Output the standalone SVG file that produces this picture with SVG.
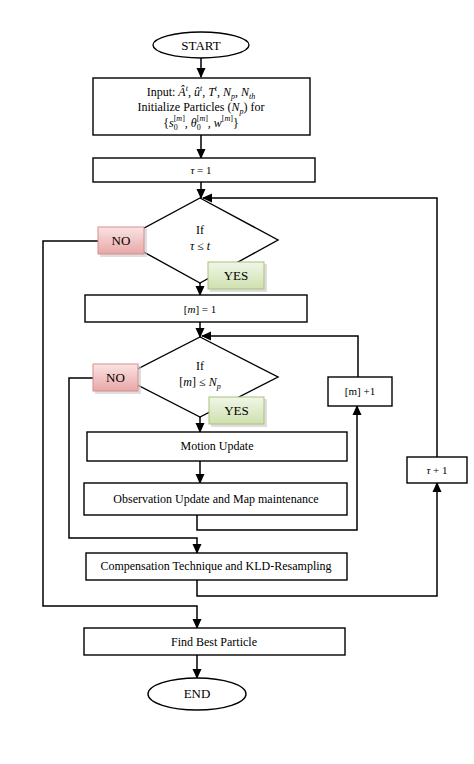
<svg xmlns="http://www.w3.org/2000/svg" width="474" height="764" viewBox="0 0 474 764">
<style>
.b{fill:#fff;stroke:#000;stroke-width:1.4}
.t{font-family:"Liberation Serif","Times New Roman",serif;font-size:12px;fill:#000;text-anchor:middle}
.m{font-style:italic}
.c{fill:none;stroke:#000;stroke-width:1.5}
.no{fill:url(#gno);stroke:#d58f8e;stroke-width:1}
.yes{fill:url(#gyes);stroke:#a8c278;stroke-width:1}
.sh{fill:#c8c8c8;opacity:0.6}
</style>
<defs>
<marker id="ah" markerWidth="10" markerHeight="10" refX="9" refY="5" orient="auto" markerUnits="userSpaceOnUse">
<path d="M0,0.5 L10,5 L0,9.5 Z" fill="#000"/>
</marker>
<linearGradient id="gno" x1="0" y1="0" x2="0" y2="1">
<stop offset="0" stop-color="#fbe3e3"/><stop offset="1" stop-color="#e8a7a6"/>
</linearGradient>
<linearGradient id="gyes" x1="0" y1="0" x2="0" y2="1">
<stop offset="0" stop-color="#f1f6e8"/><stop offset="1" stop-color="#cfe0ae"/>
</linearGradient>
</defs>
<rect width="474" height="764" fill="#fff"/>

<g id="connectors">
<line class="c" x1="201" y1="58" x2="201" y2="77" marker-end="url(#ah)"/>
<line class="c" x1="201" y1="135" x2="201" y2="158" marker-end="url(#ah)"/>
<line class="c" x1="201" y1="182" x2="201" y2="198" marker-end="url(#ah)"/>
<polyline class="c" points="437,457 437,198 203,198" marker-end="url(#ah)"/>
<line class="c" x1="200" y1="283" x2="200" y2="295" marker-end="url(#ah)"/>
<polyline class="c" points="98,241 43,241 43,606 197,606 197,628" marker-end="url(#ah)"/>
<line class="c" x1="200" y1="322" x2="200" y2="337" marker-end="url(#ah)"/>
<polyline class="c" points="358,377 358,336 202,336" marker-end="url(#ah)"/>
<line class="c" x1="200" y1="417" x2="200" y2="432" marker-end="url(#ah)"/>
<line class="c" x1="200" y1="461" x2="200" y2="483" marker-end="url(#ah)"/>
<polyline class="c" points="197,515 197,530 357,530 357,406" marker-end="url(#ah)"/>
<polyline class="c" points="93,378 69,378 69,538 197,538 197,553" marker-end="url(#ah)"/>
<polyline class="c" points="197,580 197,596 437,596 437,483" marker-end="url(#ah)"/>
<line class="c" x1="197" y1="655" x2="197" y2="678" marker-end="url(#ah)"/>
</g>

<g id="start">
<ellipse class="b" cx="201" cy="45" rx="48" ry="13"/>
<text class="t" x="201" y="50" style="font-size:13px">START</text>
</g>

<g id="input">
<rect class="b" x="93" y="78" width="217" height="57"/>
<text class="t" x="201" y="96">Input: <tspan class="m">Â</tspan><tspan class="m" font-size="8" dy="-5">t</tspan><tspan dy="5">, </tspan><tspan class="m">û</tspan><tspan class="m" font-size="8" dy="-5">t</tspan><tspan dy="5">, </tspan><tspan class="m">T</tspan><tspan class="m" font-size="8" dy="-5">t</tspan><tspan dy="5">, </tspan><tspan class="m">N</tspan><tspan class="m" font-size="8" dy="3">p</tspan><tspan dy="-3">, </tspan><tspan class="m">N</tspan><tspan class="m" font-size="8" dy="3">th</tspan></text>
<text class="t" x="201" y="111">Initialize Particles (<tspan class="m">N</tspan><tspan class="m" font-size="8" dy="3">p</tspan><tspan dy="-3">) for</tspan></text>
<text class="t" x="201" y="127">{<tspan class="m">s</tspan><tspan font-size="8" dy="3">0</tspan><tspan font-size="8" dx="-4" dy="-9">[<tspan class="m">m</tspan>]</tspan><tspan dy="6">, </tspan><tspan class="m">θ</tspan><tspan font-size="8" dy="3">0</tspan><tspan font-size="8" dx="-4" dy="-9">[<tspan class="m">m</tspan>]</tspan><tspan dy="6">, </tspan><tspan class="m">w</tspan><tspan font-size="8" dy="-6">[<tspan class="m">m</tspan>]</tspan><tspan dy="6">}</tspan></text>
</g>

<g id="tau1">
<rect class="b" x="93" y="158" width="222" height="24"/>
<text class="t" x="201" y="174" style="font-size:11px"><tspan class="m">τ</tspan> = 1</text>
</g>

<g id="cond1">
<polygon class="b" points="200,198 278,240 200,283 122,240"/>
<text class="t" x="200" y="234">If</text>
<text class="t" x="200" y="250"><tspan class="m">τ</tspan> ≤ <tspan class="m">t</tspan></text>
</g>

<g id="no1">
<rect class="sh" x="100" y="229" width="47" height="28"/>
<rect class="no" x="98" y="227" width="46" height="27"/>
<text class="t" x="121" y="245" style="font-size:13px">NO</text>
</g>

<g id="yes1">
<rect class="sh" x="210" y="264" width="57" height="28"/>
<rect class="yes" x="208" y="262" width="56" height="27"/>
<text class="t" x="236" y="280" style="font-size:13px">YES</text>
</g>

<g id="m1">
<rect class="b" x="85" y="295" width="222" height="27"/>
<text class="t" x="200" y="313" style="font-size:11px">[<tspan class="m">m</tspan>] = 1</text>
</g>

<g id="cond2">
<polygon class="b" points="200,337 278,377 200,417 122,377"/>
<text class="t" x="200" y="370">If</text>
<text class="t" x="200" y="386">[<tspan class="m">m</tspan>] ≤ <tspan class="m">N</tspan><tspan class="m" font-size="8" dy="3">p</tspan></text>
</g>

<g id="no2">
<rect class="sh" x="95" y="366" width="46" height="28"/>
<rect class="no" x="93" y="364" width="45" height="27"/>
<text class="t" x="115.5" y="382" style="font-size:13px">NO</text>
</g>

<g id="yes2">
<rect class="sh" x="211" y="399" width="56" height="28"/>
<rect class="yes" x="209" y="397" width="55" height="27"/>
<text class="t" x="236.5" y="415" style="font-size:13px">YES</text>
</g>

<g id="mplus1">
<rect class="b" x="328" y="377" width="64" height="29"/>
<text class="t" x="360" y="395" style="font-size:11px">[m] +1</text>
</g>

<g id="motion">
<rect class="b" x="87" y="432" width="260" height="29"/>
<text class="t" x="217" y="450">Motion Update</text>
</g>

<g id="observation">
<rect class="b" x="84" y="483" width="263" height="32"/>
<text class="t" x="216" y="503">Observation Update and Map maintenance</text>
</g>

<g id="compensation">
<rect class="b" x="86" y="553" width="261" height="27"/>
<text class="t" x="216" y="570">Compensation Technique and KLD-Resampling</text>
</g>

<g id="tauplus1">
<rect class="b" x="407" y="457" width="60" height="26"/>
<text class="t" x="437" y="474" style="font-size:11px"><tspan class="m">τ</tspan> + 1</text>
</g>

<g id="findbest">
<rect class="b" x="84" y="628" width="261" height="27"/>
<text class="t" x="214" y="646">Find Best Particle</text>
</g>

<g id="end">
<ellipse class="b" cx="197" cy="694" rx="49" ry="16"/>
<text class="t" x="197" y="698" style="font-size:13px">END</text>
</g>
</svg>
